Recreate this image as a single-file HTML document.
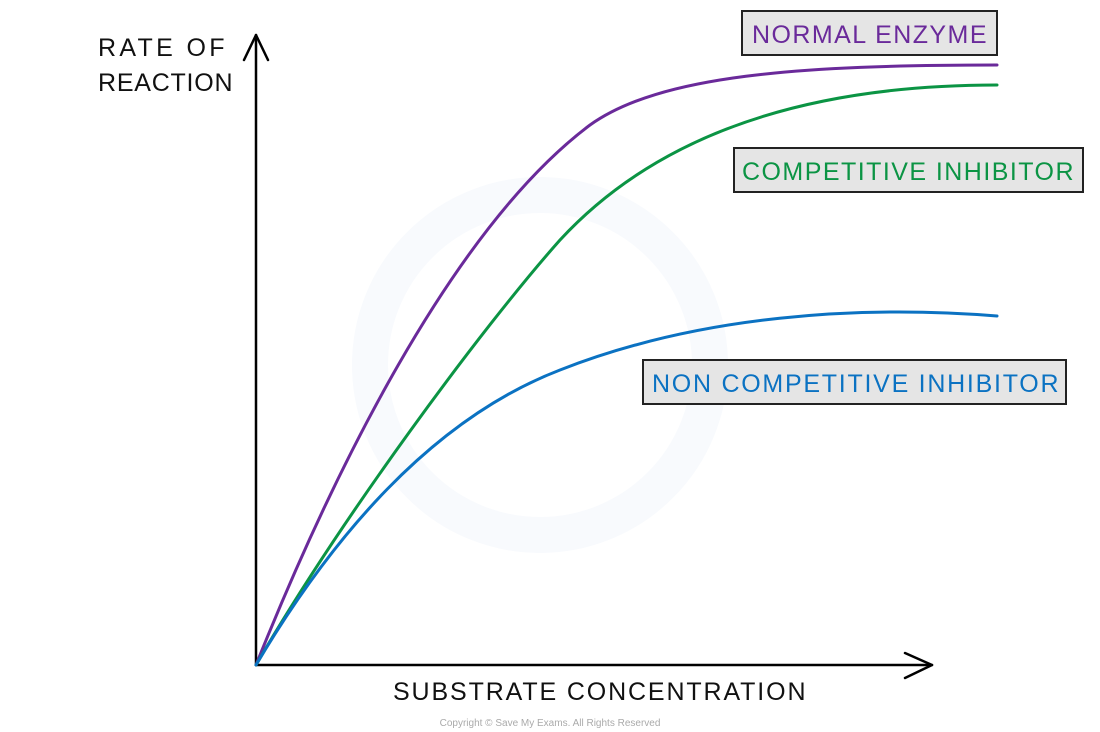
<!DOCTYPE html>
<html><head><meta charset="utf-8"><style>
html,body{margin:0;padding:0;background:#fff;}
svg{display:block;}
text{font-family:"Liberation Sans",sans-serif;}
</style></head><body>
<svg width="1100" height="732" viewBox="0 0 1100 732" xmlns="http://www.w3.org/2000/svg">
<circle cx="540" cy="365" r="170" fill="none" stroke="#f8fafd" stroke-width="36"/>
<g fill="none" stroke="#000" stroke-width="2.5" stroke-linecap="round" stroke-linejoin="round">
<path d="M256,665 L256,35"/><path d="M244,60 L256,35 L268,60"/>
<path d="M256,665 L932,665"/><path d="M905,653 L932,665 L905,678"/>
</g>
<g fill="none" stroke-width="3" stroke-linecap="round">
<path d="M256,665 C330,480 450,230 590,125 C660,75 800,65 997,65" stroke="#6a2a9a"/>
<path d="M256,665 C340,520 480,330 560,240 C680,110 860,85 997,85" stroke="#0b9444"/>
<path d="M256,665 C330,540 430,420 560,370 C700,315 860,305 997,316" stroke="#0b72c2"/>
</g>
<g stroke="#222" stroke-width="2" fill="#e5e5e5">
<rect x="742" y="11" width="255" height="44"/>
<rect x="734" y="148" width="349" height="44"/>
<rect x="643" y="360" width="423" height="44"/>
</g>
<g font-size="25" letter-spacing="1.5">
<text x="752" y="43" fill="#6a2a9a" textLength="236" lengthAdjust="spacing">NORMAL ENZYME</text>
<text x="742" y="180" fill="#0b9444" textLength="333" lengthAdjust="spacing">COMPETITIVE INHIBITOR</text>
<text x="652" y="392" fill="#0b72c2" textLength="408" lengthAdjust="spacing">NON COMPETITIVE INHIBITOR</text>
<text x="98" y="56" fill="#111" textLength="128" lengthAdjust="spacing">RATE OF</text>
<text x="98" y="91" fill="#111" textLength="136" lengthAdjust="spacing">REACTION</text>
<text x="393" y="700" fill="#111" textLength="414" lengthAdjust="spacing">SUBSTRATE CONCENTRATION</text>
</g>
<text x="550" y="726" font-size="10" fill="#aaa" text-anchor="middle">Copyright © Save My Exams. All Rights Reserved</text>
</svg>
</body></html>
